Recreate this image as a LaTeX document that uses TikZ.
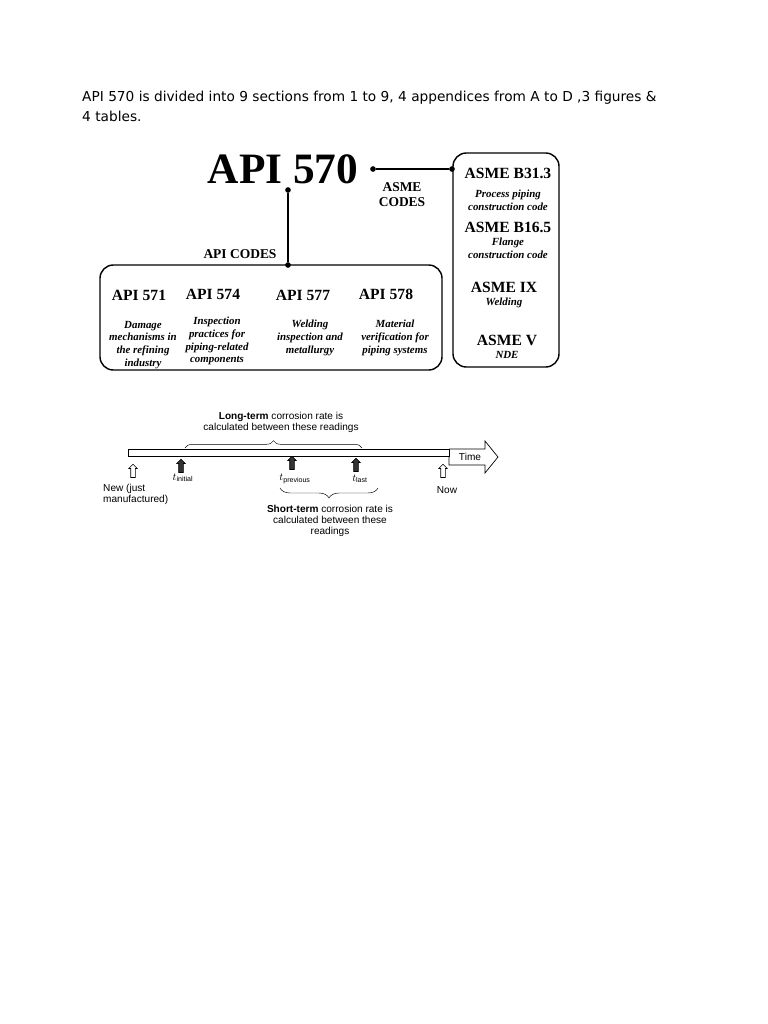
\documentclass[tikz,border=0pt]{standalone}
\usepackage{fontspec}
\setmainfont{Liberation Serif}
\newfontfamily\dejavu{DejaVu Sans}
\newfontfamily\arial{Liberation Sans}
\usetikzlibrary{shapes.arrows,decorations.pathreplacing}

\begin{document}
\begin{tikzpicture}[x=0.03cm,y=-0.03cm,
  heading/.style={font=\bfseries\fontsize{13.3}{14}\selectfont},
  label/.style={font=\bfseries\fontsize{11.5}{12.8}\selectfont,align=center},
  desc/.style={font=\bfseries\itshape\fontsize{9.3}{11}\selectfont,align=center},
  codebox/.style={draw,line width=1.2pt,rounded corners=0.4cm},
  joint/.style={circle,fill,inner sep=0pt,minimum size=0.17cm},
  small/.style={font=\arial\fontsize{8.6}{9.4}\selectfont,align=center},
  hollowarr/.style={single arrow,shape border rotate=90,draw,line width=0.5pt,
    minimum height=0.4cm,inner sep=0.06cm,single arrow head extend=0.06cm},
  fullarr/.style={hollowarr,fill=black!80}]
\useasboundingbox[fill=white] (0,0) rectangle (768,1024);

\draw (82,98) node[anchor=west,inner sep=0pt,font=\dejavu\fontsize{11.7}{13}\selectfont](intro) {API 570 is divided into 9 sections from 1 to 9, 4 appendices from A to D ,3 figures \&};
\draw (82,116) node[anchor=west,inner sep=0pt,font=\dejavu\fontsize{11.7}{13}\selectfont](introtwo) {4 tables.};

\draw (283,169) node[font=\bfseries\fontsize{37}{40}\selectfont](api) {API 570};
\draw (373,169) node[joint](apidot) {};
\draw (452,169) node[joint](asmedot) {};
\draw (288,190) node[joint](topdot) {};
\draw (288,265) node[joint](botdot) {};
\draw[line width=1.2pt] (apidot) -- (asmedot);
\draw[line width=1.2pt] (topdot) -- (botdot);

\draw[codebox] (100,265) rectangle (442,370);
\draw[codebox] (453,153) rectangle (559,367);

\draw (402,195) node[label](asmecodes) {ASME\\CODES};
\draw (240,254) node[label](apicodes) {API CODES};

\draw (139,295) node[heading](api571) {API 571};
\draw (213,294) node[heading](api574) {API 574};
\draw (303,295) node[heading](api577) {API 577};
\draw (386,294) node[heading](api578) {API 578};
\draw (143,345) node[desc](d571) {Damage\\mechanisms in\\the refining\\industry};
\draw (217,341) node[desc](d574) {Inspection\\practices for\\piping-related\\components};
\draw (310,338) node[desc](d577) {Welding\\inspection and\\metallurgy};
\draw (395,338) node[desc](d578) {Material\\verification for\\piping systems};

\draw (508,173) node[heading](b313) {ASME B31.3};
\draw (508,200) node[desc](db313) {Process piping\\construction code};
\draw (508,227) node[heading](b165) {ASME B16.5};
\draw (508,248) node[desc](db165) {Flange\\construction code};
\draw (504,287) node[heading](asmeix) {ASME IX};
\draw (504,303) node[desc](dix) {Welding};
\draw (507,340) node[heading](asmev) {ASME V};
\draw (507,355) node[desc](dv) {NDE};

\draw[line width=0.6pt] (128,449) rectangle (449,456);
\draw[line width=0.6pt] (449,456) -- (449,465) -- (485,465) -- (485,473) -- (498,457)
  -- (485,441) -- (485,449) -- (449,449);
\draw (470,457) node[small](time) {Time};

\draw (133,472) node[hollowarr](newarr) {};
\draw (443,472) node[hollowarr](nowarr) {};
\draw (181,467) node[fullarr](iniarr) {};
\draw (292,464) node[fullarr](prevarr) {};
\draw (356,466) node[fullarr](lastarr) {};

\draw (183,478) node[font=\arial\fontsize{8.6}{9}\selectfont](tini) {$t$\textsubscript{initial}};
\draw (295,479) node[font=\arial\fontsize{8.6}{9}\selectfont](tprev) {$t$\textsubscript{previous}};
\draw (360,479) node[font=\arial\fontsize{8.6}{9}\selectfont](tlast) {$t$\textsubscript{last}};
\draw (103,494) node[small,anchor=west,align=left,inner sep=0pt](newlab) {New (just\\manufactured)};
\draw (447,490) node[small](nowlab) {Now};

\draw[decorate,decoration={brace,amplitude=0.22cm}] (185,448) -- (362,448);
\draw (281,422) node[small](longlab) {\textbf{Long-term} corrosion rate is\\calculated between these readings};
\draw[decorate,decoration={brace,amplitude=0.3cm,mirror}] (280,488) -- (378,488);
\draw (330,521) node[small](shortlab) {\textbf{Short-term} corrosion rate is\\calculated between these\\readings};
\end{tikzpicture}
\end{document}
